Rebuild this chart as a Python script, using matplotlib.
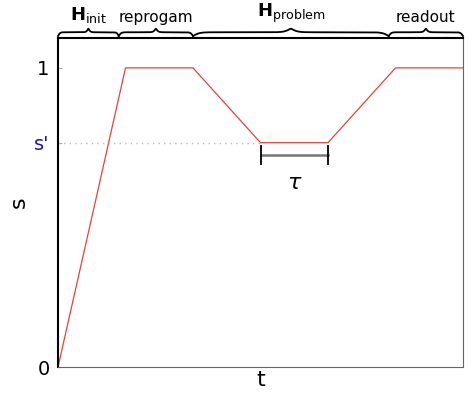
import numpy as np
import matplotlib
matplotlib.use("Agg")
import matplotlib.pyplot as plt
import matplotlib.transforms as mtransforms

# schedule s(t)
t_pts = [0, 1, 2, 3, 4, 5, 6]
s_pts = [0, 1, 1, 0.75, 0.75, 1, 1]
s_prime = 0.75
tau_start = 3
tau_end = 4

# stage braces on top
stages = [(0, 0.9, r"$\mathbf{H}_{\rm init}$", 13),
          (0.9, 2.0, "reprogam", 11),
          (2.0, 4.9, r"$\mathbf{H}_{\rm problem}$", 13),
          (4.9, 6.0, "readout", 11)]


def brace(ax, x0, x1, label, size, y=1.006, h=0.022):
	trans = mtransforms.blended_transform_factory(ax.transData, ax.transAxes)
	n = 200
	xs = np.linspace(x0, x1, n)
	half = (x1 - x0) / 2
	beta = 60.0 / (x1 - x0)
	u = xs - x0
	u = np.where(u > half, (x1 - x0) - u, u)
	ys = 1 / (1 + np.exp(-beta * u)) + 1 / (1 + np.exp(-beta * (u - half)))
	ys = (ys - ys.min()) / (ys.max() - ys.min())
	ax.plot(xs, y + h * ys, color="black", lw=1.3, transform=trans, clip_on=False)
	ax.text((x0 + x1) / 2, y + h + 0.012, label, transform=trans, ha="center", va="bottom",
		fontsize=size)


fig = plt.figure(figsize=(4.74, 4.05), dpi=100)
ax = fig.add_axes([0.1224, 0.0938, 0.8544, 0.8124])

ax.plot(t_pts, s_pts, color="#e8413c", lw=0.9)
ax.plot([0, tau_start], [s_prime, s_prime], color="#bbbbbb", lw=1, ls=(0, (1, 3)))

# tau bar
ax.plot([tau_start, tau_end], [0.71, 0.71], color="#777777", lw=1.8)
ax.plot([tau_start, tau_start], [0.68, 0.74], color="black", lw=1.3)
ax.plot([tau_end, tau_end], [0.68, 0.74], color="black", lw=1.3)
ax.text((tau_start + tau_end) / 2, 0.615, r"$\tau$", ha="center", va="center", fontsize=16)

ax.set_xlim(0, 6)
ax.set_ylim(0, 1.1)
ax.set_xticks([])
ax.set_yticks([0, s_prime, 1])
ax.set_yticklabels(["0", "s'", "1"], fontsize=14)
ax.get_yticklabels()[1].set_color("#1a1aa0")
ax.tick_params(axis="y", length=3, color="#aaaaaa", direction="in", pad=6)
ax.set_xlabel("t", fontsize=16, labelpad=2)
ax.set_ylabel("s", fontsize=16, labelpad=4)

for side in ["top", "left"]:
	ax.spines[side].set_linewidth(1.5)
for side in ["bottom", "right"]:
	ax.spines[side].set_color("#666666")

for x0, x1, lab, size in stages:
	brace(ax, x0, x1, lab, size)

fig.savefig("out.png", dpi=100)
